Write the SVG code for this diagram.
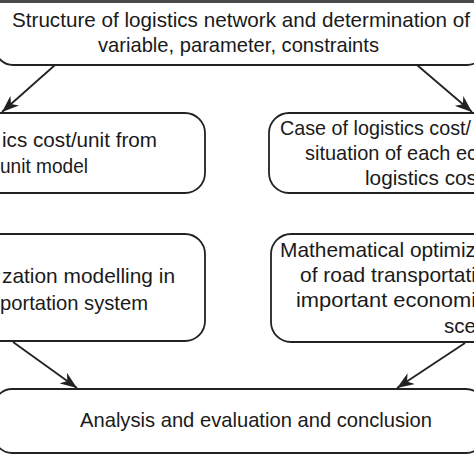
<svg xmlns="http://www.w3.org/2000/svg" width="474" height="474" viewBox="0 0 474 474">
<style>
.box{fill:#fff;stroke:#222;stroke-width:1.8}
.t{font-family:"Liberation Sans",Arial,sans-serif;font-size:21px;fill:#1a1a1a}
.c{stroke:#222;stroke-width:1.8;fill:none}
</style>
<defs>
<marker id="ah" markerUnits="userSpaceOnUse" markerWidth="18" markerHeight="13" refX="17" refY="6.5" orient="auto">
<path d="M0,0 L17,6.5 L0,13 L5,6.5 z" fill="#222"/>
</marker>
</defs>
<rect x="0" y="0" width="474" height="474" fill="#fff"/>
<g id="n1">
<rect class="box" x="-5" y="-15" width="490" height="80" rx="18"/>
<rect x="0" y="0" width="474" height="3" fill="#4a4a4a"/>
<text class="t" x="241" y="27" text-anchor="middle" textLength="458" lengthAdjust="spacingAndGlyphs">Structure of logistics network and determination of</text>
<text class="t" x="238.5" y="52" text-anchor="middle" textLength="281" lengthAdjust="spacingAndGlyphs">variable, parameter, constraints</text>
</g>
<g id="n2">
<rect class="box" x="-40" y="113" width="245" height="80" rx="20"/>
<text class="t" x="2" y="147" textLength="155" lengthAdjust="spacingAndGlyphs">ics cost/unit from</text>
<text class="t" x="0" y="173" textLength="88" lengthAdjust="spacingAndGlyphs">unit model</text>
</g>
<g id="n3">
<rect class="box" x="269" y="113" width="245" height="80" rx="20"/>
<text class="t" x="280" y="135" textLength="191" lengthAdjust="spacingAndGlyphs">Case of logistics cost/</text>
<text class="t" x="305" y="160" textLength="172" lengthAdjust="spacingAndGlyphs">situation of each ec</text>
<text class="t" x="365" y="185" textLength="112" lengthAdjust="spacingAndGlyphs">logistics cos</text>
</g>
<g id="n4">
<rect class="box" x="-40" y="234" width="245" height="107" rx="20"/>
<text class="t" x="2" y="283" textLength="173" lengthAdjust="spacingAndGlyphs">zation modelling in</text>
<text class="t" x="0" y="310" textLength="148" lengthAdjust="spacingAndGlyphs">portation system</text>
</g>
<g id="n5">
<rect class="box" x="271" y="234" width="245" height="108" rx="20"/>
<text class="t" x="280" y="257" textLength="196" lengthAdjust="spacingAndGlyphs">Mathematical optimiz</text>
<text class="t" x="300" y="282" textLength="176" lengthAdjust="spacingAndGlyphs">of road transportati</text>
<text class="t" x="296" y="307" textLength="180" lengthAdjust="spacingAndGlyphs">important economi</text>
<text class="t" x="444" y="333" textLength="32" lengthAdjust="spacingAndGlyphs">sce</text>
</g>
<g id="n6">
<rect class="box" x="-6" y="389" width="490" height="64" rx="18"/>
<text class="t" x="80" y="427" textLength="352" lengthAdjust="spacingAndGlyphs">Analysis and evaluation and conclusion</text>
</g>
<g id="connectors">
<line class="c" x1="55" y1="65" x2="2" y2="112" marker-end="url(#ah)"/>
<line class="c" x1="417" y1="65" x2="472" y2="112" marker-end="url(#ah)"/>
<line class="c" x1="13" y1="342" x2="77" y2="388" marker-end="url(#ah)"/>
<line class="c" x1="465" y1="343" x2="397" y2="388" marker-end="url(#ah)"/>
</g>
</svg>
